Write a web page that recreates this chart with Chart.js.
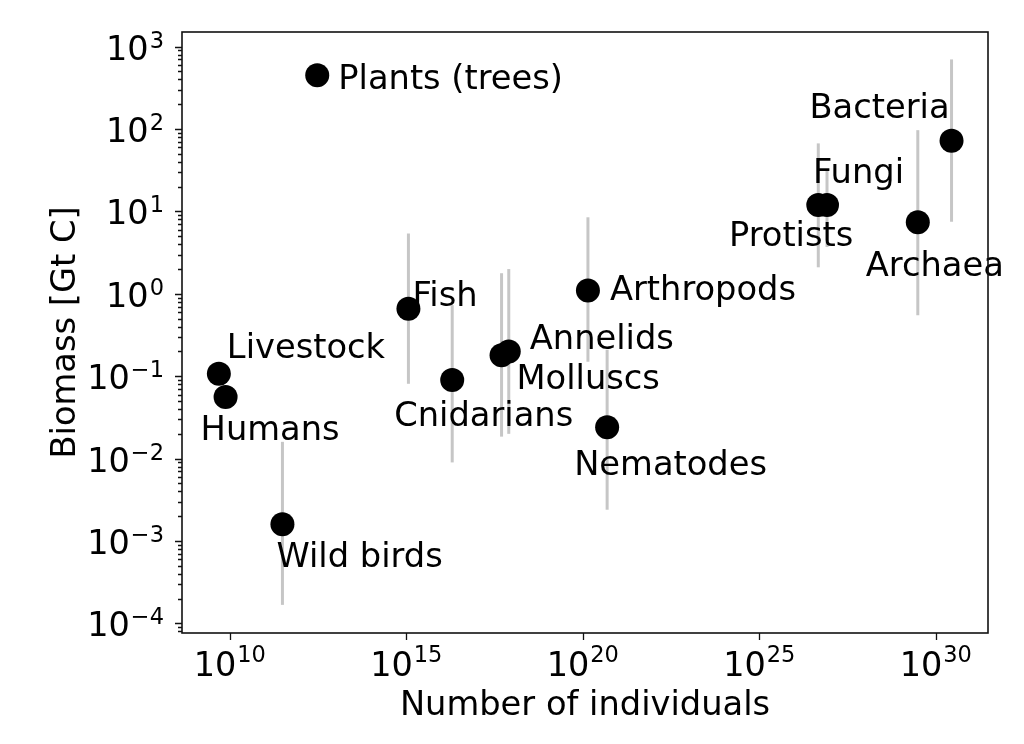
<!DOCTYPE html>
<html>
<head>
<meta charset="utf-8">
<script src="https://cdn.jsdelivr.net/npm/chart.js@4.4.1/dist/chart.umd.min.js"></script>
<style>
  html, body { margin: 0; padding: 0; background: #fff; }
  #wrap { width: 1024px; height: 744px; }
</style>
</head>
<body>
<div id="wrap"><canvas id="biomass" width="1024" height="744"></canvas></div>
<script>
// Biomass vs number of individuals, per taxon
const groups = ['Plants (trees)', 'Bacteria', 'Fungi', 'Protists', 'Archaea', 'Arthropods', 'Fish',
    'Annelids', 'Molluscs', 'Cnidarians', 'Nematodes', 'Livestock', 'Humans', 'Wild birds'];
const individuals = [3e12, 2.8e30, 8.3e26, 4.7e26, 3.1e29, 1.4e20, 1.15e15,
    8e17, 5e17, 2e16, 4.9e20, 4.9e9, 7.6e9, 3.1e11];
const biomass = [450, 72, 12, 12, 7.4, 1.1, 0.66, 0.2, 0.18, 0.09, 0.024, 0.107, 0.056, 0.0016];
const biomassLow = [null, 7.5, 3.7, 2.1, 0.55, 0.15, 0.081, 0.02, 0.0185, 0.009, 0.0024, null, null, 0.000168];
const biomassHigh = [null, 700, 32, 67, 97, 8.5, 5.4, 2.0, 1.78, 0.73, 0.21, null, null, 0.016];

// tick labels (powers of ten)
const xTickExps = [10, 15, 20, 25, 30];
const yTickExps = [-4, -3, -2, -1, 0, 1, 2, 3];

// where each name sits relative to its dot: [align, dx, baseline dy]
const labelPlacement = [
    ['left', 21, 14], ['right', -2, -23], ['left', -14, -22], ['right', 35, 41],
    ['left', -52, 54], ['left', 22, 10], ['left', 4, -3], ['left', 21, -2],
    ['left', 15, 34], ['left', -58, 46], ['left', -33, 48], ['left', 8, -16],
    ['left', -25, 43], ['left', -6, 43]
];

const FONT = '"DejaVu Sans", "Liberation Sans", sans-serif';
const errColor = '#c6c6c6';
const inkColor = '#000000';

function sup(n) {
    return String(n).replace('-', '\u2212');
}

const mplAxes = {
    id: 'mplAxes',
    beforeDatasetsDraw(chart) {
        const { ctx, scales: { x, y } } = chart;
        ctx.save();
        ctx.strokeStyle = errColor;
        ctx.lineWidth = 3;
        individuals.forEach((n, i) => {
            if (biomassLow[i] == null) return;
            const px = x.getPixelForValue(n);
            ctx.beginPath();
            ctx.moveTo(px, y.getPixelForValue(biomassLow[i]));
            ctx.lineTo(px, y.getPixelForValue(biomassHigh[i]));
            ctx.stroke();
        });
        ctx.restore();
    },
    afterDatasetsDraw(chart) {
        const { ctx, chartArea: area, scales: { x, y } } = chart;
        ctx.save();

        // point names
        ctx.fillStyle = inkColor;
        ctx.font = `33.7px ${FONT}`;
        ctx.textBaseline = 'alphabetic';
        groups.forEach((name, i) => {
            const [align, dx, dy] = labelPlacement[i];
            ctx.textAlign = align;
            ctx.fillText(name, x.getPixelForValue(individuals[i]) + dx, y.getPixelForValue(biomass[i]) + dy);
        });

        // frame
        ctx.strokeStyle = '#111';
        ctx.lineWidth = 1.6;
        ctx.strokeRect(area.left, area.top, area.right - area.left, area.bottom - area.top);

        // y ticks: majors every decade, minors at 2..9
        ctx.lineWidth = 1.3;
        ctx.beginPath();
        for (let e = -5; e <= 3; e++) {
            for (let k = 1; k <= 9; k++) {
                const v = k * Math.pow(10, e);
                if (v < y.min || v > y.max) continue;
                const py = Math.round(y.getPixelForValue(v)) + 0.5;
                ctx.moveTo(area.left, py);
                ctx.lineTo(area.left - (k === 1 ? 7 : 4), py);
            }
        }
        // x ticks: majors every five decades
        xTickExps.forEach(e => {
            const px = Math.round(x.getPixelForValue(Math.pow(10, e))) + 0.5;
            ctx.moveTo(px, area.bottom);
            ctx.lineTo(px, area.bottom + 7);
        });
        ctx.stroke();

        const baseFont = `33.5px ${FONT}`;
        const supFont = `22.5px ${FONT}`;

        // y tick labels, right aligned
        yTickExps.forEach(e => {
            const py = y.getPixelForValue(Math.pow(10, e));
            ctx.font = supFont;
            const ws = ctx.measureText(sup(e)).width;
            ctx.font = baseFont;
            const wb = ctx.measureText('10').width;
            const right = area.left - 18;
            ctx.textAlign = 'left';
            ctx.fillText('10', right - ws - wb - 1, py + 13);
            ctx.font = supFont;
            ctx.fillText(sup(e), right - ws, py + 1);
        });

        // x tick labels, centred
        xTickExps.forEach(e => {
            const px = x.getPixelForValue(Math.pow(10, e));
            ctx.font = supFont;
            const ws = ctx.measureText(sup(e)).width;
            ctx.font = baseFont;
            const wb = ctx.measureText('10').width;
            const start = px - (wb + ws + 1) / 2;
            ctx.textAlign = 'left';
            ctx.fillText('10', start, area.bottom + 43);
            ctx.font = supFont;
            ctx.fillText(sup(e), start + wb + 1, area.bottom + 29);
        });

        // axis titles
        ctx.font = `33.7px ${FONT}`;
        ctx.textAlign = 'center';
        ctx.fillText('Number of individuals', (area.left + area.right) / 2, 715);
        ctx.translate(75, (area.top + area.bottom) / 2);
        ctx.rotate(-Math.PI / 2);
        ctx.fillText('Biomass [Gt C]', 0, 0);

        ctx.restore();
    }
};

new Chart(document.getElementById('biomass').getContext('2d'), {
    type: 'scatter',
    data: {
        datasets: [{
            label: 'Biomass',
            data: individuals.map((n, i) => ({ x: n, y: biomass[i] })),
            backgroundColor: inkColor,
            borderWidth: 0,
            pointRadius: 12,
            pointHoverRadius: 12
        }]
    },
    options: {
        responsive: false,
        animation: false,
        events: [],
        layout: { padding: { left: 182, right: 36, top: 32, bottom: 111 } },
        scales: {
            x: { type: 'logarithmic', display: false, min: Math.pow(10, 8.646), max: Math.pow(10, 31.48) },
            y: { type: 'logarithmic', display: false, min: Math.pow(10, -4.116), max: Math.pow(10, 3.178) }
        },
        plugins: {
            legend: { display: false },
            tooltip: { enabled: false }
        }
    },
    plugins: [mplAxes]
});
</script>
</body>
</html>
